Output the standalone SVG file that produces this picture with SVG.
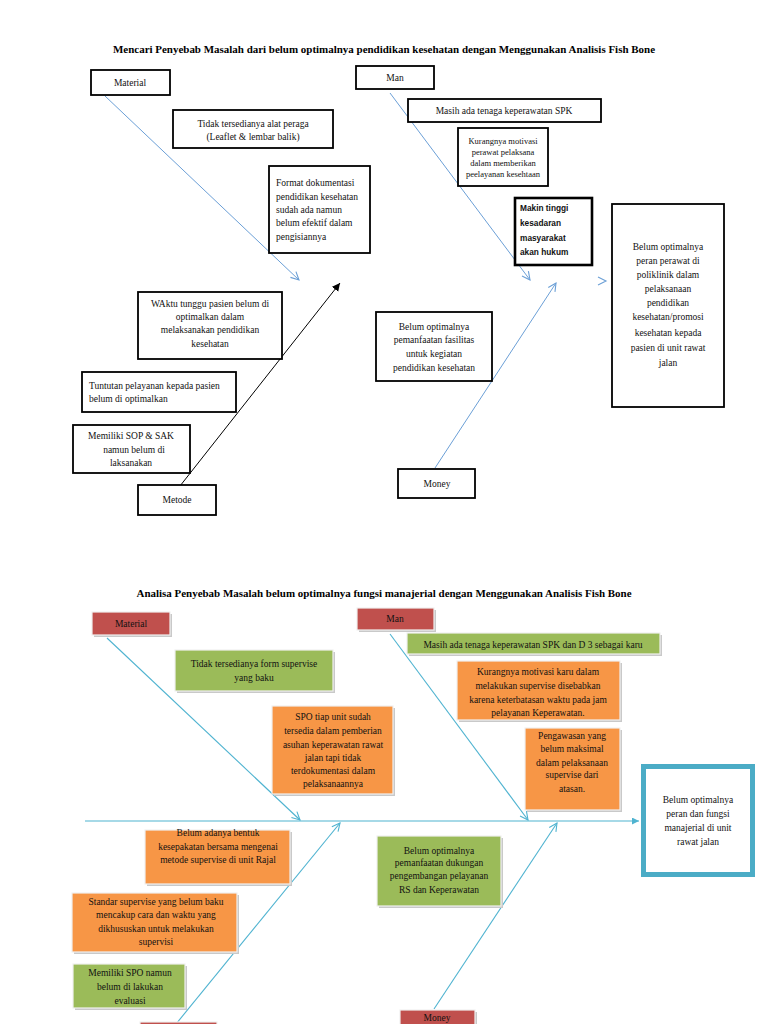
<svg xmlns="http://www.w3.org/2000/svg" width="768" height="1024" viewBox="0 0 768 1024">
<style>
  .t { font-family: "Liberation Serif", "DejaVu Serif", serif; font-size: 9.5px; fill: #111; }
  .c { text-anchor: middle; }
  .title { font-family: "Liberation Serif", "DejaVu Serif", serif; font-size: 10.5px; font-weight: bold; fill: #000; text-anchor: middle; }
  .box { fill: #fff; stroke: #000; stroke-width: 1.8; }
  .sans { font-family: "Liberation Sans", "DejaVu Sans", sans-serif; font-size: 8.3px; font-weight: bold; fill: #111; }
  .bone1 { stroke: #6b9fd6; stroke-width: 1; fill: none; }
  .bone2 { stroke: #4fb3d0; stroke-width: 1.1; fill: none; }
  .shadow { fill: #c9c9c9; }
  .red { fill: #c0504d; stroke: #f0f0f0; stroke-width: 1.2; }
  .green { fill: #9bbb59; stroke: #f0f0f0; stroke-width: 1.2; }
  .orange { fill: #f79646; stroke: #f0f0f0; stroke-width: 1.2; }
</style>
<defs>
  <marker id="vblue" markerUnits="userSpaceOnUse" markerWidth="12" markerHeight="12" refX="9" refY="5" orient="auto">
    <path d="M1,1 L9,5 L1,9" fill="none" stroke="#6b9fd6" stroke-width="1.1"/>
  </marker>
  <marker id="vteal" markerUnits="userSpaceOnUse" markerWidth="12" markerHeight="12" refX="9" refY="5" orient="auto">
    <path d="M1,1 L9,5 L1,9" fill="none" stroke="#4fb3d0" stroke-width="1.1"/>
  </marker>
  <marker id="tblack" markerUnits="userSpaceOnUse" markerWidth="10" markerHeight="10" refX="8" refY="4" orient="auto">
    <path d="M0,0 L8,4 L0,8 Z" fill="#000"/>
  </marker>
  <marker id="tteal" markerUnits="userSpaceOnUse" markerWidth="10" markerHeight="10" refX="7" refY="3.5" orient="auto">
    <path d="M0,0 L7,3.5 L0,7 Z" fill="#4fb3d0"/>
  </marker>
  <linearGradient id="spineGrad" x1="0" y1="0" x2="1" y2="0">
    <stop offset="0" stop-color="#a9c6e6"/>
    <stop offset="0.3" stop-color="#5b8cc8"/>
    <stop offset="1" stop-color="#6b9fd6"/>
  </linearGradient>
</defs>

<!-- Titles -->
<text class="title" x="384" y="53" textLength="542" lengthAdjust="spacingAndGlyphs">Mencari Penyebab Masalah dari belum optimalnya pendidikan kesehatan dengan Menggunakan Analisis Fish Bone</text>
<text class="title" x="384" y="597" textLength="495" lengthAdjust="spacingAndGlyphs">Analisa Penyebab Masalah belum optimalnya fungsi manajerial dengan Menggunakan Analisis Fish Bone</text>

<!-- Connectors -->
<g id="connectors">
  <line x1="2" y1="281" x2="606" y2="281" stroke="url(#spineGrad)" stroke-width="1.3" marker-end="url(#vblue)"/>
  <line class="bone1" x1="105" y1="96" x2="299" y2="280" marker-end="url(#vblue)"/>
  <line class="bone1" x1="390" y1="93" x2="530" y2="280" marker-end="url(#vblue)"/>
  <line x1="180" y1="486" x2="340" y2="283" stroke="#000" stroke-width="1" marker-end="url(#tblack)"/>
  <line class="bone1" x1="435" y1="468" x2="556" y2="283" marker-end="url(#vblue)"/>

  <line class="bone2" x1="85" y1="821" x2="639" y2="821" marker-end="url(#tteal)"/>
  <line class="bone2" x1="107" y1="638" x2="300" y2="820" marker-end="url(#vteal)"/>
  <line class="bone2" x1="390" y1="634" x2="528" y2="820" marker-end="url(#vteal)"/>
  <line class="bone2" x1="176" y1="1024" x2="340" y2="823" marker-end="url(#vteal)"/>
  <line class="bone2" x1="434" y1="1009" x2="557" y2="823" marker-end="url(#vteal)"/>
</g>

<!-- Top diagram nodes -->
<g id="top-material">
  <rect class="box" x="91" y="70" width="79" height="25"/>
  <text class="t c" x="130" y="86">Material</text>
</g>
<g id="top-man">
  <rect class="box" x="356" y="66" width="78" height="23"/>
  <text class="t c" x="395" y="81">Man</text>
</g>
<g id="top-metode">
  <rect class="box" x="138" y="485" width="78" height="30"/>
  <text class="t c" x="177" y="503">Metode</text>
</g>
<g id="top-money">
  <rect class="box" x="398" y="469" width="77" height="29"/>
  <text class="t c" x="437" y="487">Money</text>
</g>
<g id="top-alat-peraga">
  <rect class="box" x="173" y="110" width="160" height="38"/>
  <text class="t c" x="253" y="127">Tidak tersedianya alat peraga</text>
  <text class="t c" x="253" y="140">(Leaflet &amp; lembar  balik)</text>
</g>
<g id="top-spk">
  <rect class="box" x="408" y="99" width="193" height="23"/>
  <text class="t c" x="504" y="114">Masih ada tenaga keperawatan SPK</text>
</g>
<g id="top-motivasi">
  <rect class="box" x="458" y="128" width="90" height="58"/>
  <text class="t c" x="503" y="144" style="font-size:8.5px">Kurangnya motivasi</text>
  <text class="t c" x="503" y="155" style="font-size:8.5px">perawat pelaksana</text>
  <text class="t c" x="503" y="166" style="font-size:8.5px">dalam memberikan</text>
  <text class="t c" x="503" y="177" style="font-size:8.5px">peelayanan kesehtaan</text>
</g>
<g id="top-format">
  <rect class="box" x="269" y="166" width="101" height="87"/>
  <text class="t" x="276" y="186">Format dokumentasi</text>
  <text class="t" x="276" y="200">pendidikan kesehatan</text>
  <text class="t" x="276" y="213">sudah ada namun</text>
  <text class="t" x="276" y="226">belum efektif dalam</text>
  <text class="t" x="276" y="240">pengisiannya</text>
</g>
<g id="top-hukum">
  <rect class="box" x="515" y="198" width="77" height="67" style="stroke-width:2.6"/>
  <text class="sans" x="520" y="211">Makin tinggi</text>
  <text class="sans" x="520" y="226">kesadaran</text>
  <text class="sans" x="520" y="241">masyarakat</text>
  <text class="sans" x="520" y="255">akan hukum</text>
</g>
<g id="top-waktu">
  <rect class="box" x="138" y="292" width="144" height="67"/>
  <text class="t c" x="210" y="307">WAktu tunggu pasien belum di</text>
  <text class="t c" x="210" y="320">optimalkan dalam</text>
  <text class="t c" x="210" y="333">melaksanakan pendidikan</text>
  <text class="t c" x="210" y="347">kesehatan</text>
</g>
<g id="top-tuntutan">
  <rect class="box" x="82" y="372" width="154" height="40"/>
  <text class="t" x="89" y="389">Tuntutan pelayanan kepada pasien</text>
  <text class="t" x="89" y="402">belum di optimalkan</text>
</g>
<g id="top-sop">
  <rect class="box" x="73" y="425" width="117" height="48"/>
  <text class="t c" x="131" y="439">Memiliki SOP &amp; SAK</text>
  <text class="t c" x="134" y="453">namun belum di</text>
  <text class="t c" x="131" y="466">laksanakan</text>
</g>
<g id="top-fasilitas">
  <rect class="box" x="376" y="312" width="116" height="69"/>
  <text class="t c" x="434" y="330">Belum optimalnya</text>
  <text class="t c" x="434" y="343">pemanfaatan fasilitas</text>
  <text class="t c" x="434" y="357">untuk kegiatan</text>
  <text class="t c" x="434" y="371">pendidikan kesehatan</text>
</g>
<g id="top-effect">
  <rect class="box" x="612" y="204" width="112" height="203"/>
  <text class="t c" x="668" y="250">Belum optimalnya</text>
  <text class="t c" x="668" y="264">peran perawat di</text>
  <text class="t c" x="668" y="278">poliklinik dalam</text>
  <text class="t c" x="668" y="292">pelaksanaan</text>
  <text class="t c" x="668" y="306">pendidikan</text>
  <text class="t c" x="668" y="320">kesehatan/promosi</text>
  <text class="t c" x="668" y="336">kesehatan kepada</text>
  <text class="t c" x="668" y="351">pasien di unit rawat</text>
  <text class="t c" x="668" y="366">jalan</text>
</g>

<!-- Bottom diagram nodes -->
<g id="bot-material">
  <rect class="shadow" x="94" y="614" width="78" height="23"/>
  <rect class="red" x="92" y="612" width="78" height="23"/>
  <text class="t c" x="131" y="627">Material</text>
</g>
<g id="bot-man">
  <rect class="shadow" x="359" y="610" width="77" height="22"/>
  <rect class="red" x="357" y="608" width="77" height="22"/>
  <text class="t c" x="395" y="622">Man</text>
</g>
<g id="bot-spk">
  <rect class="shadow" x="409" y="635" width="253" height="21"/>
  <rect class="green" x="407" y="633" width="253" height="21"/>
  <text class="t c" x="533" y="648">Masih ada tenaga keperawatan SPK dan D 3 sebagai karu</text>
</g>
<g id="bot-motivasi">
  <rect class="shadow" x="459" y="663" width="163" height="59"/>
  <rect class="orange" x="457" y="661" width="163" height="59"/>
  <text class="t c" x="538" y="675">Kurangnya motivasi karu dalam</text>
  <text class="t c" x="538" y="689">melakukan supervise disebabkan</text>
  <text class="t c" x="538" y="703">karena keterbatasan waktu pada jam</text>
  <text class="t c" x="538" y="716">pelayanan Keperawatan.</text>
</g>
<g id="bot-pengawasan">
  <rect class="shadow" x="527" y="730" width="95" height="82"/>
  <rect class="orange" x="525" y="728" width="95" height="82"/>
  <text class="t c" x="572" y="739">Pengawasan yang</text>
  <text class="t c" x="572" y="752">belum maksimal</text>
  <text class="t c" x="572" y="766">dalam pelaksanaan</text>
  <text class="t c" x="572" y="778">supervise dari</text>
  <text class="t c" x="572" y="792">atasan.</text>
</g>
<g id="bot-effect">
  <rect x="643.5" y="766.5" width="109" height="108" fill="#fff" stroke="#4bacc6" stroke-width="5"/>
  <text class="t c" x="698" y="803">Belum optimalnya</text>
  <text class="t c" x="698" y="817">peran dan fungsi</text>
  <text class="t c" x="698" y="831">manajerial di unit</text>
  <text class="t c" x="698" y="845">rawat jalan</text>
</g>
<g id="bot-form">
  <rect class="shadow" x="177" y="652" width="158" height="41"/>
  <rect class="green" x="175" y="650" width="158" height="41"/>
  <text class="t c" x="254" y="667">Tidak tersedianya form supervise</text>
  <text class="t c" x="254" y="681">yang baku</text>
</g>
<g id="bot-spo-unit">
  <rect class="shadow" x="274" y="708" width="121" height="88"/>
  <rect class="orange" x="272" y="706" width="121" height="88"/>
  <text class="t c" x="333" y="720">SPO tiap unit sudah</text>
  <text class="t c" x="333" y="734">tersedia dalam pemberian</text>
  <text class="t c" x="333" y="748">asuhan keperawatan rawat</text>
  <text class="t c" x="333" y="761">jalan tapi tidak</text>
  <text class="t c" x="333" y="774">terdokumentasi dalam</text>
  <text class="t c" x="333" y="787">pelaksanaannya</text>
</g>
<g id="bot-kesepakatan">
  <rect class="shadow" x="147" y="832" width="145" height="54"/>
  <rect class="orange" x="145" y="830" width="145" height="54"/>
  <text class="t c" x="218" y="836">Belum adanya  bentuk</text>
  <text class="t c" x="218" y="850">kesepakatan bersama mengenai</text>
  <text class="t c" x="218" y="863">metode supervise di unit Rajal</text>
</g>
<g id="bot-standar">
  <rect class="shadow" x="74" y="895" width="165" height="59"/>
  <rect class="orange" x="72" y="893" width="165" height="59"/>
  <text class="t c" x="156" y="905">Standar supervise yang belum baku</text>
  <text class="t c" x="156" y="918">mencakup cara dan waktu yang</text>
  <text class="t c" x="156" y="932">dikhususkan untuk melakukan</text>
  <text class="t c" x="156" y="945">supervisi</text>
</g>
<g id="bot-spo">
  <rect class="shadow" x="75" y="966" width="112" height="44"/>
  <rect class="green" x="73" y="964" width="112" height="44"/>
  <text class="t c" x="130" y="976">Memiliki SPO namun</text>
  <text class="t c" x="130" y="990">belum di lakukan</text>
  <text class="t c" x="130" y="1004">evaluasi</text>
</g>
<g id="bot-dukungan">
  <rect class="shadow" x="379" y="838" width="124" height="70"/>
  <rect class="green" x="377" y="836" width="124" height="70"/>
  <text class="t c" x="439" y="854">Belum optimalnya</text>
  <text class="t c" x="439" y="866">pemanfaatan dukungan</text>
  <text class="t c" x="439" y="879">pengembangan pelayanan</text>
  <text class="t c" x="439" y="893">RS dan Keperawatan</text>
</g>
<g id="bot-money">
  <rect class="shadow" x="402" y="1012" width="75" height="30"/>
  <rect class="red" x="400" y="1010" width="75" height="30"/>
  <text class="t c" x="437" y="1021">Money</text>
</g>
<g id="bot-metode">
  <rect class="shadow" x="142" y="1024" width="77" height="30"/>
  <rect class="red" x="140" y="1022" width="77" height="30"/>
</g>
</svg>
